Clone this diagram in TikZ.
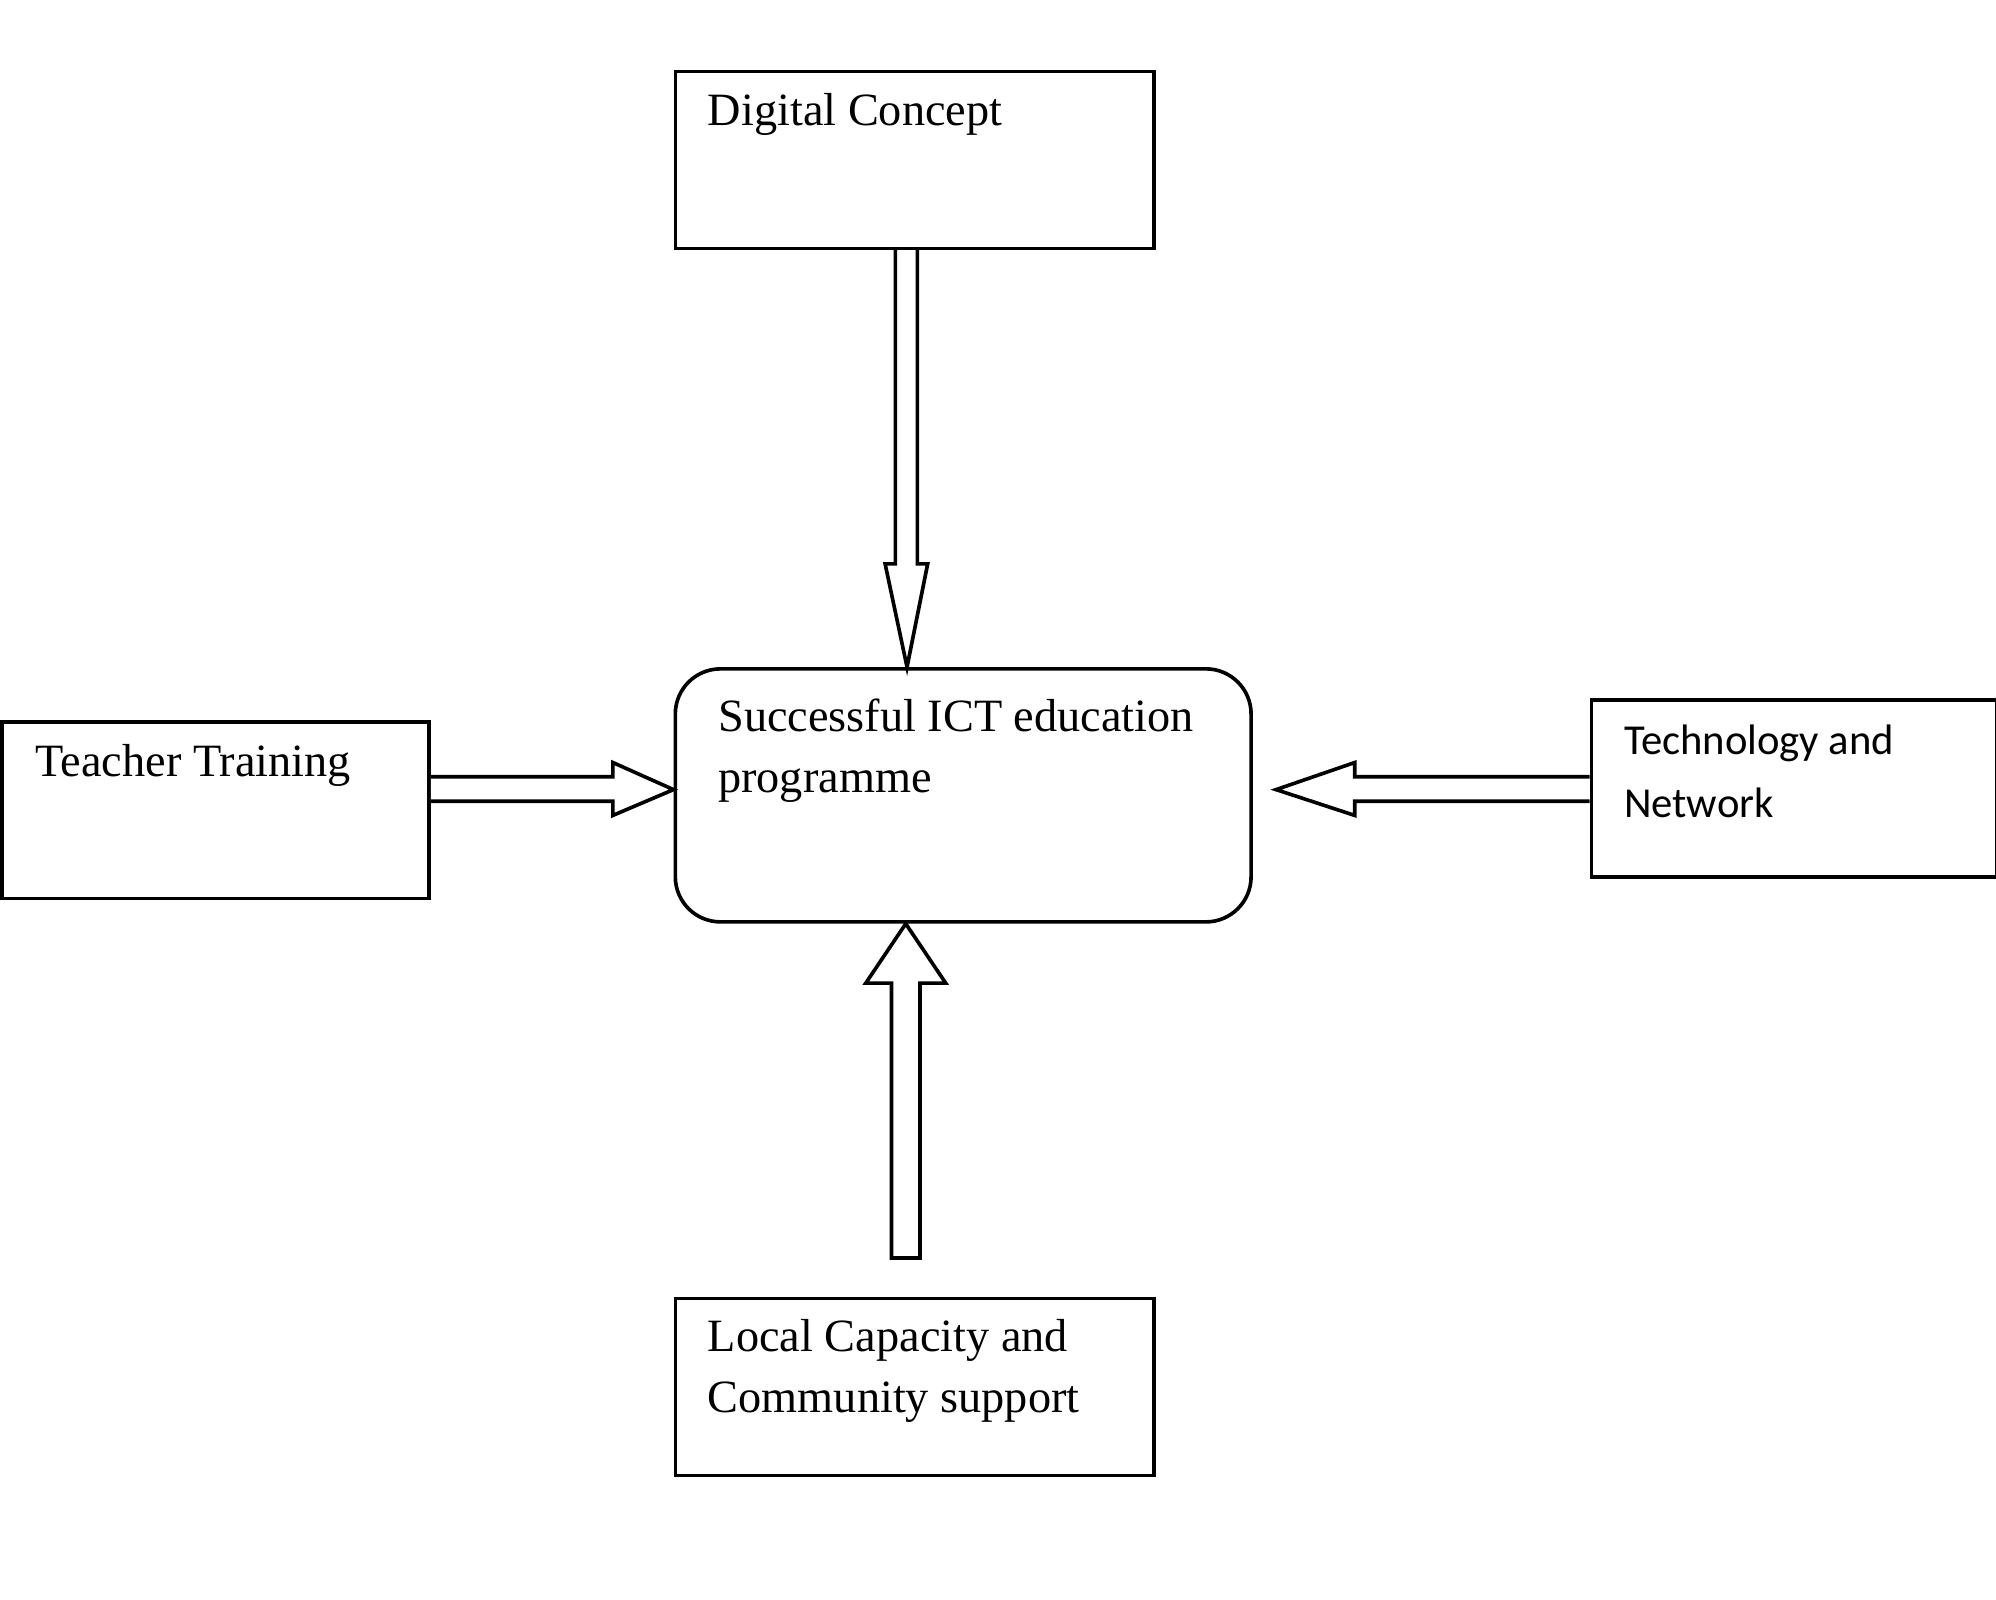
\documentclass[tikz,border=0pt]{standalone}
\usepackage{fontspec}
\setmainfont{Liberation Serif}
\newfontfamily\techfont{Carlito}
\usetikzlibrary{calc}
\tikzset{
    factorbox/.style={draw, line width=0.8pt, minimum width=3.71cm, minimum height=1.37cm, anchor=north west},
    hollowarrow/.style={draw, line width=0.8pt, fill=white, line join=miter},
    boxtext/.style={anchor=north west, inner sep=0pt, align=left, font=\fontsize{10.2}{13.4}\selectfont},
}

\begin{document}
\begin{tikzpicture}[x=0.01cm,y=-0.01cm]
    \useasboundingbox (0,0) rectangle (1547,1240);

    % boxes
    \node[factorbox] (digital) at (522,54) {};
    \node[factorbox, minimum width=3.31cm] (teacher) at (0,558) {};
    \node[factorbox, minimum width=3.14cm] (tech) at (1232,541) {};
    \node[factorbox] (local) at (522,1005) {};
    \node[draw, line width=0.8pt, rounded corners=0.35cm, minimum width=4.46cm,
          minimum height=1.96cm, anchor=north west] (ict) at (522,517) {};

    % texts
    \node[boxtext] (digitaltext) at (548,72) {Digital Concept};
    \node[boxtext] (teachertext) at (27,576) {Teacher Training};
    \node[boxtext, font=\techfont\fontsize{9.4}{14}\selectfont] (techtext) at (1258,561) {Technology and\\Network};
    \node[boxtext] (localtext) at (548,1022) {Local Capacity and\\Community support};
    \node[boxtext] (icttext) at (556,541) {Successful ICT education\\programme};

    % block arrows
    \draw[hollowarrow] (digital.south -| 694,0) -- (694,437) -- (686,437) -- (ict.north -| 703,0)
        -- (719,437) -- (711,437) -- (digital.south -| 711,0);
    \draw[hollowarrow] (teacher.east |- 0,602) -- (475,602) -- (475,591) -- (ict.west |- 0,612)
        -- (475,632) -- (475,621) -- (teacher.east |- 0,621);
    \draw[hollowarrow] (tech.west |- 0,602) -- (1050,602) -- (1050,591) -- (989,612)
        -- (1050,632) -- (1050,621) -- (tech.west |- 0,621);
    \draw[hollowarrow] (691,975) -- (691,762) -- (671,762) -- (ict.south -| 702,0)
        -- (733,762) -- (713,762) -- (713,975) -- cycle;
\end{tikzpicture}
\end{document}
